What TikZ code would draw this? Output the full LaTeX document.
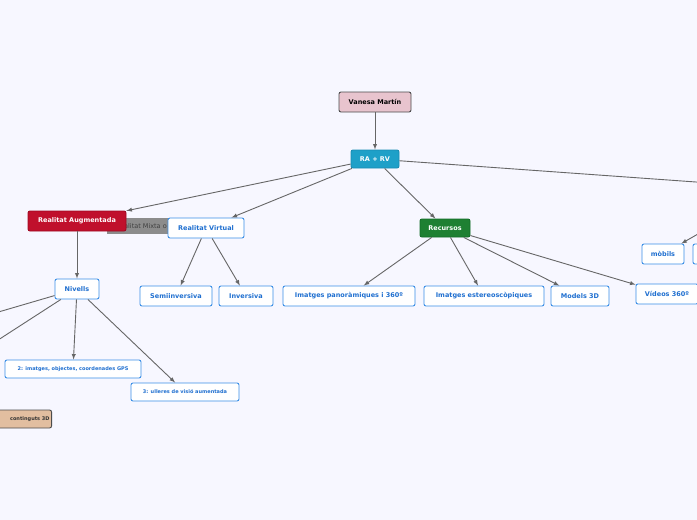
\documentclass[tikz,border=0pt]{standalone}
\usepackage{fontspec}
\setmainfont{DejaVu Sans}
\definecolor{bl}{HTML}{3A8EE6}
\definecolor{blt}{HTML}{1F6FD0}
\definecolor{pk}{HTML}{E8C4CE}
\definecolor{cyb}{HTML}{198CB4}
\definecolor{cyf}{HTML}{1EA0C8}
\definecolor{rdb}{HTML}{A00A23}
\definecolor{rdf}{HTML}{C0102C}
\definecolor{grb}{HTML}{146E28}
\definecolor{grf}{HTML}{1E8032}
\definecolor{tan}{HTML}{E2BEA0}
\begin{document}
\begin{tikzpicture}[x=1pt,y=-1pt,
 box/.style={draw=#1,rounded corners=2pt,line width=0.9pt,minimum height=18pt,inner sep=2pt,font=\fontsize{6.5}{7}\selectfont\bfseries},
 wbox/.style={box=bl,fill=white,text=blt},
 arr/.style={draw=gray!80!black,line width=0.9pt,-latex}]
\clip (0,0) rectangle (697,520);
\fill[blue!3] (0,0) rectangle (697,520);
\node[box=black!70,fill=pk,minimum width=72pt,minimum height=20pt] (vm) at (375,102) {Vanesa Martín};
\node[box=cyb,fill=cyf,text=white,minimum width=48pt] (rr) at (375,159) {RA + RV};
\node[fill=gray!90,minimum width=68pt,minimum height=16pt,text=black!75,font=\fontsize{6.5}{7}\selectfont,anchor=west,inner sep=2pt] (mx) at (107,226) {\quad Realitat Mixta o E};
\node[box=rdb,fill=rdf,text=white,minimum width=98pt,minimum height=20pt] (ra) at (77,221) {Realitat Augmentada};
\node[wbox,minimum width=76pt,minimum height=20pt] (rv) at (206,228) {Realitat Virtual};
\node[box=grb,fill=grf,text=white,minimum width=50pt] (rec) at (445,228) {Recursos};
\node[wbox,minimum width=44pt,minimum height=20pt] (niv) at (77,289) {Nivells};
\node[wbox,minimum width=72pt,minimum height=20pt] (semi) at (176,296) {Semiinversiva};
\node[wbox,minimum width=54pt,minimum height=20pt] (inv) at (246,296) {Inversiva};
\node[wbox,minimum width=132pt,minimum height=20pt] (pan) at (349,296) {Imatges panoràmiques i 360º};
\node[wbox,minimum width=120pt,minimum height=20pt] (est) at (484,296) {Imatges estereoscòpiques};
\node[wbox,minimum width=58pt,minimum height=20pt] (mod) at (580,296) {Models 3D};
\node[wbox,minimum width=62pt,minimum height=20pt] (vid) at (667,294) {Vídeos 360º};
\node[wbox,minimum width=42pt,minimum height=20pt] (mob) at (663,254) {mòbils};
\node[wbox,minimum width=40pt,minimum height=20pt] (mob2) at (713,254) {};
\node[wbox,minimum width=136pt,font=\fontsize{5}{6}\selectfont\bfseries] (n2) at (73,369) {2: imatges, objectes, coordenades GPS};
\node[wbox,minimum width=108pt,font=\fontsize{5}{6}\selectfont\bfseries] (n3) at (185,392) {3: ulleres de visió aumentada};
\node[box=black!70,fill=tan,text=black!80,font=\fontsize{5}{6}\selectfont\bfseries,anchor=east] (c3) at (52,419) {\hspace*{30pt}continguts 3D};
\coordinate (r1) at (710,183);
\coordinate (r2) at (705,230);
\coordinate (l1) at (-5,313);
\coordinate (l2) at (-5,342);
\draw[arr] (vm) -- (rr);
\draw[arr] (rr) -- (ra);
\draw[arr] (rr) -- (rv);
\draw[arr] (rr) -- (rec);
\draw[arr,-] (rr) -- (r1);
\draw[arr] (r2) -- (mob);
\draw[arr] (ra) -- (niv);
\draw[arr] (rv) -- (semi);
\draw[arr] (rv) -- (inv);
\draw[arr] (rec) -- (pan);
\draw[arr] (rec) -- (est);
\draw[arr] (rec) -- (mod);
\draw[arr] (rec) -- (vid);
\draw[arr,-] (niv) -- (l1);
\draw[arr,-] (niv) -- (l2);
\draw[arr] (niv) -- (n2);
\draw[arr] (niv) -- (n3);
\end{tikzpicture}
\end{document}
